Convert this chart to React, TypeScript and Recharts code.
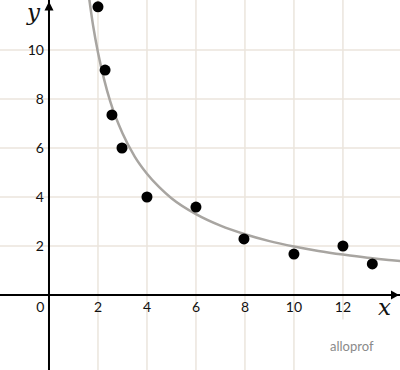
import React from 'react';
import { ComposedChart, Line, Scatter, XAxis, YAxis, ReferenceLine, ReferenceDot } from 'recharts';

const pointsX = [2.0, 2.29, 2.57, 2.98, 4.0, 6.0, 7.96, 10.0, 12.0, 13.2];
const pointsY = [11.76, 9.18, 7.35, 6.0, 4.0, 3.59, 2.29, 1.67, 2.0, 1.27];

const curveX = [1.6, 1.8, 2.0, 2.25, 2.5, 3.0, 3.5, 4.0, 4.5, 5.0, 6.0, 7.0, 8.0, 9.0, 10.0, 11.0, 12.0, 13.0, 14.0, 14.4];
const curveY = [12.4, 11.0, 9.9, 8.8, 7.9, 6.6, 5.65, 4.95, 4.4, 3.95, 3.3, 2.83, 2.48, 2.2, 1.98, 1.8, 1.65, 1.52, 1.42, 1.38];

const xTicks = [2, 4, 6, 8, 10, 12];
const yTicks = [2, 4, 6, 8, 10];
const xGrid = [2, 4, 6, 8, 10, 12];
const yGrid = [2, 4, 6, 8, 10];

const X_DOMAIN: [number, number] = [-2, 14.33];
const Y_DOMAIN: [number, number] = [-3.06, 12.04];

const points = pointsX.map((x, i) => ({ x, y: pointsY[i] }));
const curve = curveX.map((x, i) => ({ x, c: curveY[i] }));

const GRID = '#ebe5dd';
const FONT = 'Lato, "Open Sans", sans-serif';

const XTickLabel = (label: string) => (p: any) => (
  <text x={p.cx} y={p.cy + 17} textAnchor="middle" fontFamily={FONT} fontSize={14} fill="#111">{label}</text>
);
const YTickLabel = (label: string) => (p: any) => (
  <text x={p.cx - 5} y={p.cy + 5} textAnchor="end" fontFamily={FONT} fontSize={14} fill="#111">{label}</text>
);

const XArrow = (p: any) => (
  <polygon points={`${p.cx - 1},${p.cy} ${p.cx - 9},${p.cy - 4.5} ${p.cx - 9},${p.cy + 4.5}`} fill="#000" />
);
const YArrow = (p: any) => (
  <polygon points={`${p.cx},${p.cy} ${p.cx - 4.5},${p.cy + 9} ${p.cx + 4.5},${p.cy + 9}`} fill="#000" />
);

const Dot = (p: any) => <circle cx={p.cx} cy={p.cy} r={5.5} fill="#000" />;

const axisTitle: React.CSSProperties = {
  position: 'absolute',
  fontFamily: '"DejaVu Serif", serif',
  fontStyle: 'italic',
  fontSize: 23,
  lineHeight: '24px',
  color: '#111',
};

export default function App() {
  return (
    <div style={{ position: 'absolute', left: 0, top: 0, width: 400, height: 370, background: '#fff', overflow: 'hidden' }}>
      <ComposedChart width={400} height={370} margin={{ top: 0, right: 0, bottom: 0, left: 0 }}>
        <XAxis type="number" dataKey="x" domain={X_DOMAIN} allowDataOverflow hide />
        <YAxis type="number" domain={Y_DOMAIN} allowDataOverflow hide />
        {xGrid.map((v) => (
          <ReferenceLine key={'gx' + v} segment={[{ x: v, y: v === 12 ? -1.0 : Y_DOMAIN[0] }, { x: v, y: Y_DOMAIN[1] }]} stroke={GRID} strokeWidth={1.5} />
        ))}
        {yGrid.map((v) => (
          <ReferenceLine key={'gy' + v} y={v} stroke={GRID} strokeWidth={1.5} />
        ))}
        <ReferenceLine y={0} stroke="#000" strokeWidth={2} />
        <ReferenceLine x={0} stroke="#000" strokeWidth={2} />
        <ReferenceDot x={14.33} y={0} r={0} shape={XArrow} ifOverflow="visible" />
        <ReferenceDot x={0} y={11.98} r={0} shape={YArrow} ifOverflow="visible" />
        <Line data={curve} dataKey="c" type="monotone" stroke="#a8a5a1" strokeWidth={2.5} dot={false} isAnimationActive={false} />
        <Scatter data={points} dataKey="y" shape={Dot} isAnimationActive={false} />
        {xTicks.map((v) => (
          <ReferenceDot key={'tx' + v} x={v} y={0} r={0} shape={XTickLabel(String(v))} ifOverflow="visible" />
        ))}
        <ReferenceDot x={-0.35} y={0} r={0} shape={XTickLabel('0')} ifOverflow="visible" />
        {yTicks.map((v) => (
          <ReferenceDot key={'ty' + v} x={0} y={v} r={0} shape={YTickLabel(String(v))} ifOverflow="visible" />
        ))}
      </ComposedChart>
      <div style={{ ...axisTitle, left: 27, top: 0 }}>y</div>
      <div style={{ ...axisTitle, left: 378, top: 295 }}>x</div>
      <div style={{ position: 'absolute', left: 330, top: 338, fontFamily: FONT, fontSize: 13, color: '#8a8a8a' }}>alloprof</div>
    </div>
  );
}
